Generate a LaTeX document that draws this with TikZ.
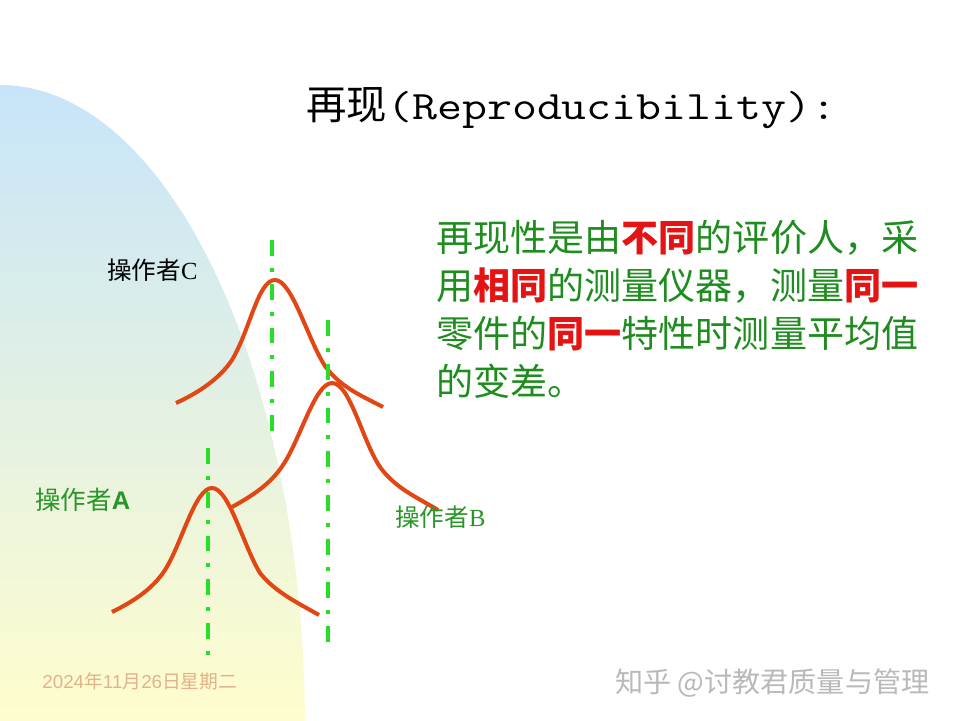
\documentclass[tikz,border=0pt]{standalone}
\usepackage{fontspec}
\setmainfont{Liberation Serif}
\setsansfont{Liberation Sans}
\setmonofont{Liberation Mono}
\newfontfamily\cjk{Noto Sans CJK SC}
\newfontfamily\titlemono{Latin Modern Mono}[FakeStretch=1.2]
\newcommand{\keyword}[1]{{\color{keyred}\bfseries #1}}
\begin{document}
\begin{tikzpicture}[x=0.02cm,y=-0.02cm,
        bell/.style={draw=curvered, line width=2.3pt},
        meanline/.style={draw=dashgreen, line width=2.3pt, dash pattern=on 9pt off 6.8pt on 2.3pt off 6.8pt},
        lbl/.style={anchor=west, inner sep=0pt, font=\fontsize{14}{16}\selectfont}]
    % Define colors
    \definecolor{curvered}{RGB}{225,70,20}
    \definecolor{dashgreen}{RGB}{40,222,40}
    \definecolor{textgreen}{RGB}{30,140,30}
    \definecolor{labelgreen}{RGB}{40,150,40}
    \definecolor{keyred}{RGB}{228,20,20}
    \definecolor{bgblue}{RGB}{198,228,250}
    \definecolor{bgmid}{RGB}{234,245,240}
    \definecolor{bgyellow}{RGB}{255,253,205}
    \definecolor{datecolor}{RGB}{228,178,138}

    % Draw background
    \fill[white] (0,0) rectangle (960,720);
    \useasboundingbox (0,0) rectangle (960,720);
    \begin{scope}
        \clip (0,730) ellipse (305 and 645);
        \shade[top color=bgblue, middle color=bgmid, bottom color=bgyellow] (0,80) rectangle (310,720);
    \end{scope}

    % Title and text
    \node[anchor=west, inner sep=0pt, font=\fontsize{23}{26}\selectfont] (title) at (306,108)
        {{\cjk 再现}{\titlemono (Reproducibility):}};
    \node[anchor=north west, inner sep=0pt, align=left, text=textgreen,
          font=\cjk\fontsize{21.1}{27.2}\selectfont] (desc) at (436,220)
        {再现性是由\keyword{不同}的评价人，采\\
         用\keyword{相同}的测量仪器，测量\keyword{同一}\\
         零件的\keyword{同一}特性时测量平均值\\
         的变差。};

    % Draw curves
    \draw[bell] (176,403) .. controls (200,392) and (220,378) .. (232,360)
        .. controls (250,330) and (258,280) .. (275,280)
        .. controls (292,280) and (308,340) .. (325,366)
        .. controls (340,387) and (362,396) .. (383,407);
    \draw[bell] (232,507) .. controls (250,497) and (270,485) .. (283,465)
        .. controls (300,440) and (315,383) .. (332,383)
        .. controls (350,383) and (362,440) .. (380,467)
        .. controls (395,488) and (418,498) .. (438,510);
    \draw[bell] (112,612) .. controls (132,602) and (152,590) .. (165,570)
        .. controls (182,543) and (195,488) .. (212,488)
        .. controls (229,488) and (243,545) .. (260,573)
        .. controls (275,592) and (298,603) .. (319,615);

    % Draw mean lines
    \foreach \x/\ya/\yb in {208/448/655, 272/240/432, 328/320/643}
        \draw[meanline] (\x,\ya) -- (\x,\yb);

    % Label operators
    \node[lbl] (opC) at (107,270) {{\cjk 操作者}C};
    \node[lbl, text=labelgreen, font=\fontsize{14.5}{16}\selectfont] (opA) at (35,500) {{\cjk 操作者}{\sffamily\bfseries A}};
    \node[lbl, text=labelgreen] (opB) at (395,517) {{\cjk 操作者}B};

    % Footer
    \node[anchor=west, inner sep=0pt, text=datecolor, font=\sffamily\fontsize{10.7}{12}\selectfont] (date) at (42,681)
        {2024{\cjk 年}11{\cjk 月}26{\cjk 日星期二}};
    \node[anchor=west, inner sep=0pt, text=gray!55, font=\cjk\fontsize{16}{18}\selectfont] (mark) at (615,683)
        {知乎 @讨教君质量与管理};
\end{tikzpicture}
\end{document}
